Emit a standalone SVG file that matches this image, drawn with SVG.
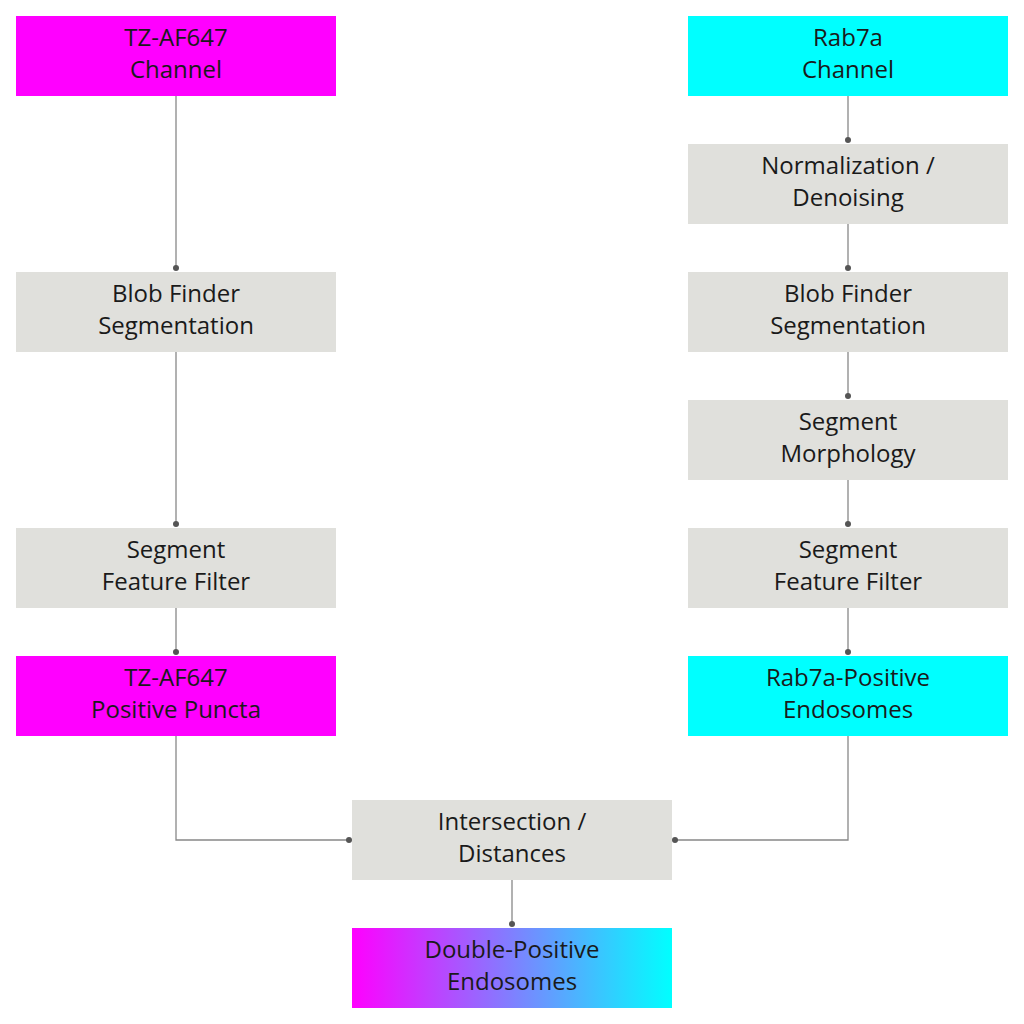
<svg xmlns="http://www.w3.org/2000/svg" width="1024" height="1024" viewBox="0 0 1024 1024">
<style>
.g{fill:#e0e0dc}.m{fill:#ff00ff}.c{fill:#00ffff}
text{font-family:"Open Sans","Noto Sans",sans-serif;font-size:24px;fill:#1a1a1a;text-anchor:middle}
.l{stroke:#888;stroke-width:1.3;fill:none}
.d{fill:#555}
</style>
<defs><linearGradient id="gr" x1="0" x2="1"><stop offset="0" stop-color="#ff00ff"/><stop offset="1" stop-color="#00ffff"/></linearGradient></defs>
<rect width="1024" height="1024" fill="#fff"/>
<g id="connectors">
<path class="l" d="M176 96V268M176 352V524M176 608V652M848 96V140M848 224V268M848 352V396M848 480V524M848 608V652M176 736V840H349M848 736V840H675M512 880V924"/>
<g class="d"><circle cx="176" cy="268" r="3"/><circle cx="176" cy="524" r="3"/><circle cx="176" cy="652" r="3"/><circle cx="848" cy="140" r="3"/><circle cx="848" cy="268" r="3"/><circle cx="848" cy="396" r="3"/><circle cx="848" cy="524" r="3"/><circle cx="848" cy="652" r="3"/><circle cx="349" cy="840" r="3"/><circle cx="675" cy="840" r="3"/><circle cx="512" cy="924" r="3"/></g>
</g>
<g id="n1"><rect class="m" x="16" y="16" width="320" height="80"/><text x="176" y="46">TZ-AF647</text><text x="176" y="78">Channel</text></g>
<g id="n2"><rect class="g" x="16" y="272" width="320" height="80"/><text x="176" y="302">Blob Finder</text><text x="176" y="334">Segmentation</text></g>
<g id="n3"><rect class="g" x="16" y="528" width="320" height="80"/><text x="176" y="558">Segment</text><text x="176" y="590">Feature Filter</text></g>
<g id="n4"><rect class="m" x="16" y="656" width="320" height="80"/><text x="176" y="686">TZ-AF647</text><text x="176" y="718">Positive Puncta</text></g>
<g id="r1"><rect class="c" x="688" y="16" width="320" height="80"/><text x="848" y="46">Rab7a</text><text x="848" y="78">Channel</text></g>
<g id="r2"><rect class="g" x="688" y="144" width="320" height="80"/><text x="848" y="174">Normalization /</text><text x="848" y="206">Denoising</text></g>
<g id="r3"><rect class="g" x="688" y="272" width="320" height="80"/><text x="848" y="302">Blob Finder</text><text x="848" y="334">Segmentation</text></g>
<g id="r4"><rect class="g" x="688" y="400" width="320" height="80"/><text x="848" y="430">Segment</text><text x="848" y="462">Morphology</text></g>
<g id="r5"><rect class="g" x="688" y="528" width="320" height="80"/><text x="848" y="558">Segment</text><text x="848" y="590">Feature Filter</text></g>
<g id="r6"><rect class="c" x="688" y="656" width="320" height="80"/><text x="848" y="686">Rab7a-Positive</text><text x="848" y="718">Endosomes</text></g>
<g id="i"><rect class="g" x="352" y="800" width="320" height="80"/><text x="512" y="830">Intersection /</text><text x="512" y="862">Distances</text></g>
<g id="dp"><rect fill="url(#gr)" x="352" y="928" width="320" height="80"/><text x="512" y="958">Double-Positive</text><text x="512" y="990">Endosomes</text></g>
</svg>
